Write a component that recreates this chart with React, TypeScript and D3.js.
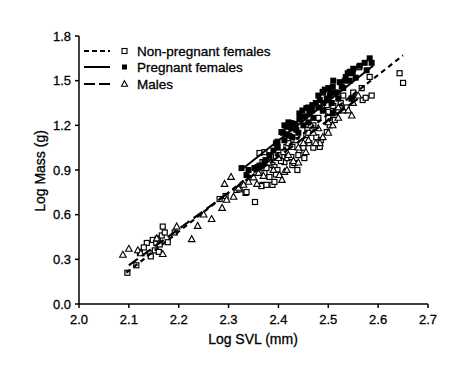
import React from "react";
import * as d3 from "d3";

const xTicks = [2.0, 2.1, 2.2, 2.3, 2.4, 2.5, 2.6, 2.7];
const yTicks = [0.0, 0.3, 0.6, 0.9, 1.2, 1.5, 1.8];

const nonPregnant: [number, number][] = [
  [2.097, 0.21], [2.115, 0.26], [2.122, 0.35], [2.136, 0.41], [2.142, 0.34], [2.144, 0.32],
  [2.148, 0.43], [2.152, 0.36], [2.155, 0.41], [2.158, 0.44], [2.162, 0.4], [2.166, 0.46],
  [2.168, 0.52], [2.172, 0.48], [2.178, 0.415], [2.192, 0.48], [2.13, 0.38], [2.16, 0.35],
  [2.282, 0.705], [2.294, 0.725], [2.316, 0.766], [2.322, 0.77], [2.334, 0.746], [2.336, 0.752],
  [2.353, 0.685], [2.368, 0.8], [2.362, 1.014], [2.366, 0.792], [2.368, 0.953], [2.372, 0.88],
  [2.372, 1.02], [2.376, 0.8], [2.376, 0.913], [2.382, 0.853], [2.382, 0.953], [2.388, 0.933],
  [2.388, 0.8], [2.392, 0.82], [2.392, 0.92], [2.398, 0.9], [2.398, 1.055], [2.402, 1.0],
  [2.412, 0.953], [2.416, 1.055], [2.418, 0.98], [2.426, 0.987], [2.428, 0.933], [2.428, 1.055],
  [2.432, 0.947], [2.436, 1.1], [2.438, 0.9], [2.442, 1.034], [2.452, 0.98], [2.456, 1.135],
  [2.462, 1.08], [2.476, 1.12], [2.483, 1.055], [2.497, 1.155], [2.503, 1.2], [2.513, 1.236],
  [2.489, 1.42], [2.497, 1.336], [2.5, 1.29], [2.533, 1.316], [2.537, 1.32], [2.547, 1.38],
  [2.562, 1.59], [2.567, 1.45], [2.569, 1.37], [2.575, 1.385], [2.583, 1.525], [2.587, 1.4],
  [2.643, 1.55], [2.65, 1.485], [2.458, 1.17], [2.47, 1.2], [2.48, 1.25], [2.49, 1.3],
  [2.52, 1.3], [2.525, 1.35], [2.45, 1.05], [2.44, 1.0], [2.41, 1.02], [2.42, 1.08],
  [2.46, 1.15], [2.5, 1.25], [2.55, 1.42], [2.53, 1.4], [2.51, 1.33], [2.47, 1.05],
  [2.485, 1.1], [2.405, 0.96], [2.395, 0.87], [2.385, 0.99],
];

const pregnant: [number, number][] = [
  [2.326, 0.913], [2.336, 0.866], [2.34, 0.9], [2.352, 0.913], [2.358, 0.92], [2.362, 0.93],
  [2.372, 0.947], [2.374, 0.967], [2.382, 1.0], [2.39, 1.03], [2.398, 1.05], [2.398, 1.09],
  [2.406, 1.155], [2.409, 1.15], [2.412, 1.1], [2.412, 1.2], [2.416, 1.19], [2.422, 1.13],
  [2.426, 1.18], [2.426, 1.215], [2.428, 1.12], [2.432, 1.21], [2.434, 1.2], [2.436, 1.17],
  [2.442, 1.24], [2.444, 1.25], [2.442, 1.28], [2.452, 1.26], [2.456, 1.316], [2.46, 1.32],
  [2.462, 1.28], [2.467, 1.3], [2.468, 1.336], [2.475, 1.35], [2.483, 1.37], [2.489, 1.3],
  [2.489, 1.425], [2.493, 1.44], [2.497, 1.38], [2.503, 1.4], [2.505, 1.42], [2.507, 1.35],
  [2.509, 1.28], [2.509, 1.46], [2.513, 1.42], [2.517, 1.42], [2.523, 1.49], [2.527, 1.46],
  [2.533, 1.5], [2.535, 1.525], [2.539, 1.55], [2.543, 1.5], [2.543, 1.56], [2.547, 1.38],
  [2.549, 1.55], [2.563, 1.6], [2.573, 1.62], [2.577, 1.57], [2.583, 1.65], [2.587, 1.62],
  [2.45, 1.2], [2.47, 1.25], [2.48, 1.32], [2.52, 1.38], [2.53, 1.45], [2.555, 1.52],
  [2.44, 1.15], [2.46, 1.22], [2.49, 1.35], [2.5, 1.45], [2.415, 1.14], [2.395, 1.08],
  [2.42, 1.22], [2.448, 1.3], [2.48, 1.4], [2.51, 1.5], [2.55, 1.58],
];

const males: [number, number][] = [
  [2.088, 0.33], [2.1, 0.37], [2.118, 0.36], [2.124, 0.34], [2.156, 0.44], [2.168, 0.335],
  [2.196, 0.52], [2.226, 0.435], [2.238, 0.524], [2.266, 0.57], [2.287, 0.645], [2.296, 0.7],
  [2.292, 0.806], [2.305, 0.853], [2.357, 0.806], [2.402, 0.866], [2.407, 0.833], [2.412, 0.887],
  [2.417, 0.9], [2.483, 1.08], [2.489, 1.12], [2.509, 1.2], [2.547, 1.265], [2.25, 0.6],
  [2.38, 0.95], [2.4, 0.98], [2.42, 1.0], [2.44, 1.05], [2.45, 1.08], [2.46, 1.1],
  [2.47, 1.15], [2.48, 1.18], [2.5, 1.15], [2.52, 1.25], [2.53, 1.3], [2.55, 1.35],
  [2.56, 1.4], [2.43, 0.96], [2.455, 1.02], [2.39, 0.9], [2.37, 0.86], [2.34, 0.82],
  [2.32, 0.78], [2.31, 0.72], [2.33, 0.8], [2.35, 0.85], [2.36, 0.88], [2.44, 0.95],
  [2.52, 1.32], [2.54, 1.3], [2.5, 1.22], [2.465, 1.2], [2.475, 1.08],
];

const nonPregnantLine: [number, number][] = [[2.095, 0.21], [2.65, 1.67]];
const pregnantLine: [number, number][] = [[2.325, 0.9], [2.59, 1.6]];
const malesLine: [number, number][] = [[2.1, 0.26], [2.56, 1.38]];

const legendLabels = ["Non-pregnant females", "Pregnant females", "Males"];

const W = 474;
const H = 379;
const FONT = "'Liberation Sans', Arial, sans-serif";
const TS = { fontFamily: FONT, fill: "#000", stroke: "#000", strokeWidth: 0.3 };

export default function App() {
  const x = d3.scaleLinear().domain([2.0, 2.7]).range([79, 428]);
  const y = d3.scaleLinear().domain([0, 1.8]).range([304, 36]);
  const line = d3.line<[number, number]>().x((d) => x(d[0])).y((d) => y(d[1]));
  const sq = 5;
  const tri = (cx: number, cy: number, s: number) =>
    `M${cx},${cy - s * 0.6}L${cx + s * 0.55},${cy + s * 0.4}L${cx - s * 0.55},${cy + s * 0.4}Z`;

  const dashes = ["5,3", "", "11,4"];
  const legendY = [51, 67, 84];

  return (
    <svg width={W} height={H} style={{ position: "absolute", left: 0, top: 0, background: "#fff" }}>
      <rect width={W} height={H} fill="#fff" />
      {nonPregnant.map((d, i) => (
        <rect key={"n" + i} x={x(d[0]) - sq / 2} y={y(d[1]) - sq / 2} width={sq} height={sq}
          fill="#fff" stroke="#000" strokeWidth={1.2} />
      ))}
      {males.map((d, i) => (
        <path key={"m" + i} d={tri(x(d[0]), y(d[1]), 6)} fill="#fff" stroke="#000" strokeWidth={1.1} />
      ))}
      {pregnant.map((d, i) => (
        <rect key={"p" + i} x={x(d[0]) - 3} y={y(d[1]) - 3} width={6} height={6} fill="#000" />
      ))}
      <path d={line(nonPregnantLine) || ""} fill="none" stroke="#000" strokeWidth={2.2} strokeDasharray="5,4" />
      <path d={line(pregnantLine) || ""} fill="none" stroke="#000" strokeWidth={2} />
      <path d={line(malesLine) || ""} fill="none" stroke="#000" strokeWidth={2.2} strokeDasharray="11,5" />
      <line x1={79} x2={79} y1={y(1.8)} y2={y(0)} stroke="#000" strokeWidth={1.5} />
      <line x1={x(2.0)} x2={x(2.7)} y1={304} y2={304} stroke="#000" strokeWidth={1.5} />
      {yTicks.map((t) => (
        <g key={"yt" + t}>
          <line x1={75} x2={79} y1={y(t)} y2={y(t)} stroke="#000" strokeWidth={1.5} />
          <text x={71} y={y(t) + 4.5} textAnchor="end" fontSize={13} {...TS}>
            {t.toFixed(1)}
          </text>
        </g>
      ))}
      {xTicks.map((t) => (
        <g key={"xt" + t}>
          <line x1={x(t)} x2={x(t)} y1={304} y2={308} stroke="#000" strokeWidth={1.5} />
          <text x={x(t)} y={324} textAnchor="middle" fontSize={13} {...TS}>
            {t.toFixed(1)}
          </text>
        </g>
      ))}
      <text x={253} y={344} textAnchor="middle" fontSize={14} {...TS}>
        Log SVL (mm)
      </text>
      <text transform={`translate(45,171) rotate(-90)`} textAnchor="middle" fontSize={14} {...TS}>
        Log Mass (g)
      </text>
      {legendLabels.map((lab, i) => (
        <g key={"lg" + i}>
          <line x1={84} x2={110} y1={legendY[i]} y2={legendY[i]} stroke="#000" strokeWidth={2}
            strokeDasharray={dashes[i] || undefined} />
          {i === 0 && (
            <rect x={122} y={legendY[i] - 2.5} width={5} height={5} fill="#fff" stroke="#000" strokeWidth={1.1} />
          )}
          {i === 1 && <rect x={122} y={legendY[i] - 2.5} width={5} height={5} fill="#000" />}
          {i === 2 && <path d={tri(124.5, legendY[i], 5.5)} fill="#fff" stroke="#000" strokeWidth={1.1} />}
          <text x={137} y={legendY[i] + 4.5} fontSize={13.5} {...TS}>
            {lab}
          </text>
        </g>
      ))}
    </svg>
  );
}
